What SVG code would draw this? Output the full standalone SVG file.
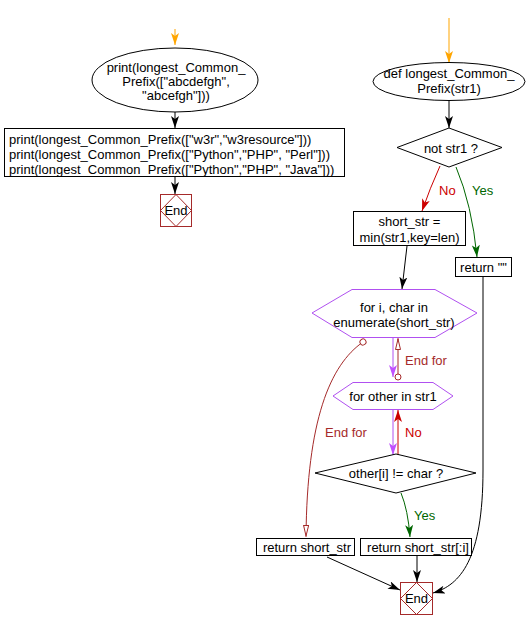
<svg xmlns="http://www.w3.org/2000/svg" width="529" height="630" viewBox="0 0 529 630">
<defs>
<style>
text{font-family:"Liberation Sans",Arial,sans-serif;font-size:13px;fill:#000}
.m{text-anchor:middle}
.box{fill:#fff;stroke:#000;stroke-width:1}
.end{fill:#fff;stroke:#a52a2a;stroke-width:1}
.hex{fill:#fff;stroke:#b050f0;stroke-width:1}
.c{fill:none;stroke-width:1}
.k{stroke:#000}
.o{stroke:#ffa500}
.r{stroke:#cc0000}
.g{stroke:#006600}
.p{stroke:#b050f0}
.br{stroke:#a52a2a}
.tr{fill:#cc0000}
.tg{fill:#006600}
.tb{fill:#a52a2a}
</style>
<marker id="ak" markerUnits="userSpaceOnUse" markerWidth="13" markerHeight="9" refX="12" refY="4" orient="auto"><path d="M0,0 L12,4 L0,8 L3,4 Z" fill="#000"/></marker>
<marker id="ao" markerUnits="userSpaceOnUse" markerWidth="13" markerHeight="9" refX="12" refY="4" orient="auto"><path d="M0,0 L12,4 L0,8 L3,4 Z" fill="#ffa500"/></marker>
<marker id="ar" markerUnits="userSpaceOnUse" markerWidth="13" markerHeight="9" refX="12" refY="4" orient="auto"><path d="M0,0 L12,4 L0,8 L3,4 Z" fill="#cc0000"/></marker>
<marker id="ag" markerUnits="userSpaceOnUse" markerWidth="13" markerHeight="9" refX="12" refY="4" orient="auto"><path d="M0,0 L12,4 L0,8 L3,4 Z" fill="#006600"/></marker>
<marker id="ap" markerUnits="userSpaceOnUse" markerWidth="13" markerHeight="9" refX="12" refY="4" orient="auto"><path d="M0,0 L12,4 L0,8 L3,4 Z" fill="#c050ff"/></marker>
<marker id="aw" markerUnits="userSpaceOnUse" markerWidth="13" markerHeight="9" refX="12" refY="3" orient="auto"><path d="M0.5,0.5 L11,3 L0.5,5.5 Z" fill="#fff" stroke="#a52a2a" stroke-width="1"/></marker>
<marker id="cs" markerUnits="userSpaceOnUse" markerWidth="8" markerHeight="8" refX="4" refY="4" orient="auto"><circle cx="4" cy="4" r="3" fill="#fff" stroke="#a52a2a" stroke-width="1"/></marker>
</defs>
<rect width="529" height="630" fill="#fff"/>

<g id="connectors">
<path class="c o" d="M175,29 L175,45" marker-end="url(#ao)"/>
<path class="c k" d="M175,112 L175,128" marker-end="url(#ak)"/>
<path class="c k" d="M175,177 L175,194" marker-end="url(#ak)"/>
<path class="c o" d="M449,18 L449,63" marker-end="url(#ao)"/>
<path class="c k" d="M449,100 L449,128" marker-end="url(#ak)"/>
<path class="c r" d="M440,166 Q430,188 422,211" marker-end="url(#ar)"/>
<path class="c g" d="M456,167 Q472,205 477,257" marker-end="url(#ag)"/>
<path class="c k" d="M407,246 L402,289" marker-end="url(#ak)"/>
<path class="c k" d="M483,276 L483,470 C483,560 460,585 433,593" marker-end="url(#ak)"/>
<path class="c p" d="M393,337 L393,377" marker-end="url(#ap)"/>
<path class="c br" d="M398,377 L398,338" marker-start="url(#cs)" marker-end="url(#aw)"/>
<path class="c p" d="M393,409 L393,455" marker-end="url(#ap)"/>
<path class="c r" d="M398,455 L398,410" marker-end="url(#ar)"/>
<path class="c br" d="M363,342 C330,365 307,420 306,537" marker-start="url(#cs)" marker-end="url(#aw)"/>
<path class="c g" d="M401,493 Q408,510 410,537" marker-end="url(#ag)"/>
<path class="c k" d="M327,557 L400,590" marker-end="url(#ak)"/>
<path class="c k" d="M417,555 L417,582" marker-end="url(#ak)"/>
<text x="439" y="195" class="tr">No</text>
<text x="472" y="195" class="tg">Yes</text>
<text x="405" y="365" class="tb">End for</text>
<text x="405" y="437" class="tr">No</text>
<text x="325" y="437" class="tb">End for</text>
<text x="414" y="520" class="tg">Yes</text>
</g>

<g id="start-main">
<ellipse cx="175" cy="80" rx="83" ry="32" class="box"/>
<text x="176" y="72" class="m">print(longest_Common_</text>
<text x="176" y="86" class="m">Prefix(["abcdefgh",</text>
<text x="176" y="100" class="m">"abcefgh"]))</text>
</g>

<g id="prints">
<rect x="4.5" y="128.5" width="340" height="48" class="box"/>
<text x="9" y="144">print(longest_Common_Prefix(["w3r","w3resource"]))</text>
<text x="9" y="159">print(longest_Common_Prefix(["Python","PHP", "Perl"]))</text>
<text x="9" y="174">print(longest_Common_Prefix(["Python","PHP", "Java"]))</text>
</g>

<g id="end-main">
<rect x="160.5" y="194.5" width="31" height="32" class="end"/>
<path d="M176,194.5 L191.5,210.5 L176,226.5 L160.5,210.5 Z" fill="none" stroke="#a52a2a"/>
<text x="176" y="215" class="m">End</text>
</g>

<g id="def">
<ellipse cx="449" cy="81.5" rx="76" ry="19" class="box"/>
<text x="449" y="78" class="m">def longest_Common_</text>
<text x="449" y="93" class="m">Prefix(str1)</text>
</g>

<g id="cond-not">
<path d="M449,128 L502,147.5 L449,167 L397,147.5 Z" class="box"/>
<text x="451" y="153" class="m">not str1 ?</text>
</g>

<g id="short">
<rect x="353.5" y="211.5" width="112" height="34" class="box"/>
<text x="409.5" y="226" class="m">short_str =</text>
<text x="409.5" y="242" class="m">min(str1,key=len)</text>
</g>

<g id="ret-empty">
<rect x="455.5" y="257.5" width="56" height="19" class="box"/>
<text x="483.5" y="272" class="m">return ""</text>
</g>

<g id="for-outer">
<path d="M312,313 L352,289.5 L435,289.5 L477,313 L435,337.5 L352,337.5 Z" class="hex"/>
<text x="394" y="312" class="m">for i, char in</text>
<text x="394" y="327" class="m">enumerate(short_str)</text>
</g>

<g id="for-inner">
<path d="M333,396 L353,382.5 L433,382.5 L453,396 L433,409.5 L353,409.5 Z" class="hex"/>
<text x="393" y="401" class="m">for other in str1</text>
</g>

<g id="cond-char">
<path d="M396,454 L476,473 L396,493 L315,473 Z" class="box"/>
<text x="396" y="478" class="m">other[i] != char ?</text>
</g>

<g id="ret-short">
<rect x="256.5" y="538.5" width="98" height="17" class="box"/>
<text x="307" y="552" class="m">return short_str</text>
</g>

<g id="ret-slice">
<rect x="360.5" y="538.5" width="111" height="17" class="box"/>
<text x="418" y="552" class="m">return short_str[:i]</text>
</g>

<g id="end-func">
<rect x="400.5" y="582.5" width="32" height="32" class="end"/>
<path d="M416.5,582.5 L432.5,598.5 L416.5,614.5 L400.5,598.5 Z" fill="none" stroke="#a52a2a"/>
<text x="416.5" y="603" class="m">End</text>
</g>
</svg>
